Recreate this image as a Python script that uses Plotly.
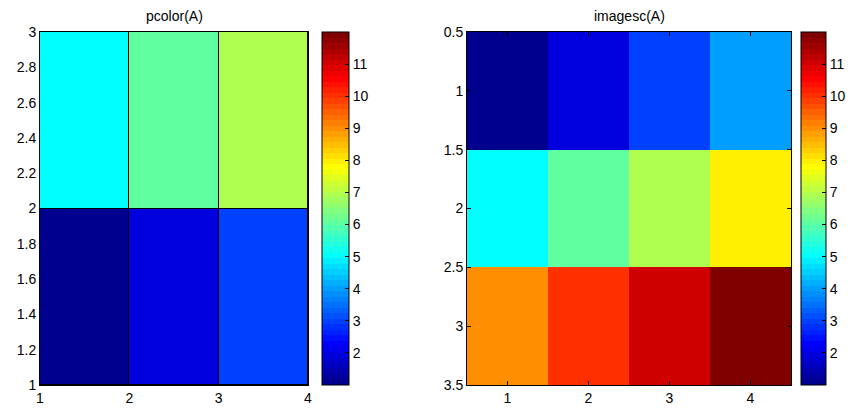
import numpy as np
import plotly.graph_objects as go

# Data
A = [[1, 2, 3, 4],
     [5, 6, 7, 8],
     [9, 10, 11, 12]]
pcolor_x_edges = [1, 2, 3, 4]
pcolor_y_edges = [1, 2, 3]
img_x = [1, 2, 3, 4]
img_y = [1, 2, 3]
left_yticks = [1, 1.2, 1.4, 1.6, 1.8, 2, 2.2, 2.4, 2.6, 2.8, 3]
left_xticks = [1, 2, 3, 4]
right_yticks = [0.5, 1, 1.5, 2, 2.5, 3, 3.5]
right_xticks = [1, 2, 3, 4]
cbar_ticks = [2, 3, 4, 5, 6, 7, 8, 9, 10, 11]
titles = ["pcolor(A)", "imagesc(A)"]

# MATLAB jet(64)
m = 64
n = int(np.ceil(m / 4))
u = np.concatenate([np.arange(1, n + 1) / n, np.ones(n - 1), np.arange(n, 0, -1) / n])
g = int(np.ceil(n / 2)) - (1 if m % 4 == 1 else 0) + np.arange(1, len(u) + 1)
r = g + n
b = g - n
J = np.zeros((m, 3))
for idx, val in zip(r, u):
    if 1 <= idx <= m:
        J[idx - 1, 0] = val
for idx, val in zip(g, u):
    if 1 <= idx <= m:
        J[idx - 1, 1] = val
for idx, val in zip(b, u):
    if 1 <= idx <= m:
        J[idx - 1, 2] = val
colorscale = []
for k in range(m):
    c = "rgb(%d,%d,%d)" % tuple(int(round(v * 255)) for v in J[k])
    colorscale.append([k / m, c])
    colorscale.append([(k + 1) / m, c])

# page body has an 8px margin; lay out in window pixels minus that offset
OFF = 8
W, H = 855 - OFF, 411 - OFF
def px(x):
    return (x - OFF) / W
def py(y):
    return 1 - (y - OFF) / H

font = dict(family="Liberation Sans, Arial, sans-serif", size=14, color="black")

# pcolor: drops last row/col
pc_z = [row[:-1] for row in A[:-1]]

fig = go.Figure()
fig.add_trace(go.Heatmap(x=pcolor_x_edges, y=pcolor_y_edges, z=pc_z, coloraxis="coloraxis",
                         xgap=1, ygap=1, xaxis="x", yaxis="y", hoverinfo="skip"))
fig.add_trace(go.Heatmap(x=img_x, y=img_y, z=A, coloraxis="coloraxis2",
                         xaxis="x2", yaxis="y2", hoverinfo="skip"))

ydom = [py(385), py(32)]
cb_common = dict(tickvals=cbar_ticks, ticks="inside", ticklen=4, tickcolor="black",
                 outlinecolor="black", outlinewidth=1, lenmode="fraction",
                 len=(385 - 32) / H, y=(ydom[0] + ydom[1]) / 2, yanchor="middle",
                 xanchor="left", xpad=0, ypad=0, tickfont=font)

axis_common = dict(showline=True, linecolor="black", linewidth=1, mirror=True,
                   showgrid=False, zeroline=False, tickfont=font, automargin=False)

fig.update_layout(
    width=W, height=H,
    margin=dict(l=0, r=0, t=0, b=0, autoexpand=False),
    paper_bgcolor="white", plot_bgcolor="black",
    font=font, showlegend=False,
    coloraxis=dict(colorscale=colorscale, cmin=1, cmax=12,
                   colorbar=dict(x=px(322), thickness=27, **cb_common)),
    coloraxis2=dict(colorscale=colorscale, cmin=1, cmax=12,
                    colorbar=dict(x=px(801), thickness=25, **cb_common)),
    xaxis=dict(domain=[px(40), px(308)], range=[1, 4], tickvals=left_xticks,
               ticktext=[str(v) for v in left_xticks], ticks="", anchor="y", **axis_common),
    yaxis=dict(domain=ydom, range=[1, 3], tickvals=left_yticks,
               ticktext=["%g" % v for v in left_yticks], ticks="", anchor="x", **axis_common),
    xaxis2=dict(domain=[px(467), px(791)], range=[0.5, 4.5], tickvals=right_xticks,
                ticktext=[str(v) for v in right_xticks], ticks="inside", ticklen=4,
                tickcolor="black", anchor="y2", **{**axis_common, "mirror": "ticks"}),
    yaxis2=dict(domain=ydom, range=[3.5, 0.5], tickvals=right_yticks,
                ticktext=["%g" % v for v in right_yticks], ticks="inside", ticklen=4,
                tickcolor="black", anchor="x2", **{**axis_common, "mirror": "ticks"}),
    annotations=[
        dict(text=titles[0], x=px((40 + 308) / 2), y=py(16), xref="paper", yref="paper",
             showarrow=False, font=font, xanchor="center", yanchor="middle", borderpad=0),
        dict(text=titles[1], x=px((467 + 791) / 2), y=py(16), xref="paper", yref="paper",
             showarrow=False, font=font, xanchor="center", yanchor="middle", borderpad=0),
    ],
)

fig.write_html("out.html")
